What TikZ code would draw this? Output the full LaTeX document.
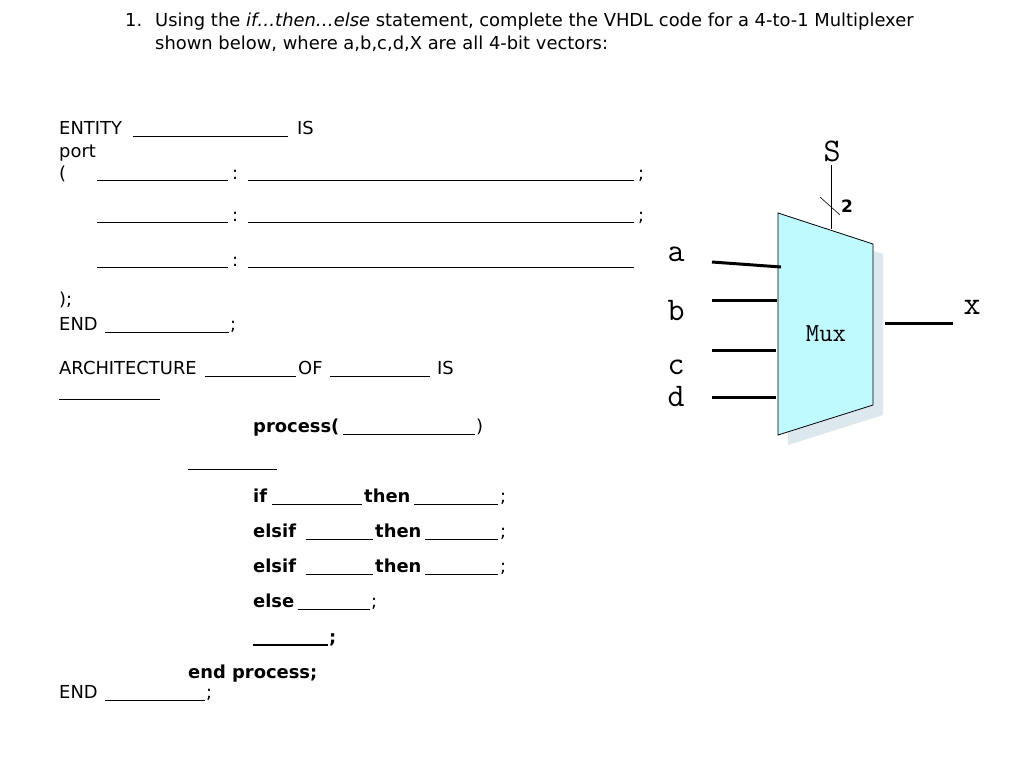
\documentclass[tikz,border=0pt]{standalone}
\usepackage{fontspec}
\setmainfont{DejaVu Sans}
\definecolor{muxfill}{RGB}{190,250,255}
\definecolor{muxshadow}{RGB}{220,232,238}
\begin{document}
\begin{tikzpicture}[x=1pt,y=-1pt,
  t/.style={anchor=base west,inner sep=0pt,font=\fontsize{17.9}{21}\selectfont},
  b/.style={t,font=\fontsize{17.9}{21}\selectfont\bfseries},
  m/.style={anchor=center,inner sep=0pt,font=\fontsize{33}{36}\ttfamily},
  blank/.style={line width=0.7pt},
  wire/.style={line width=3pt}]
\useasboundingbox (0,0) rectangle (1024,769);
% header
\node[t] (n1) at (125,26) {1.};
\node[t] (h1) at (155,26) {Using the \textit{if…then…else} statement, complete the VHDL code for a 4-to-1 Multiplexer};
\node[t] (h2) at (155,49) {shown below, where a,b,c,d,X are all 4-bit vectors:};
% entity
\node[t] (e1) at (59,134) {ENTITY};
\draw[blank] (133,136) -- (288,136);
\node[t] (e2) at (297,134) {IS};
\node[t] (p1) at (59,157) {port};
\node[t] (p2) at (59,179) {(};
\foreach \y/\s in {180/1,222/1,267/0}{
  \draw[blank] (97,\y) -- (228,\y);
  \node[t] at (232,\y-1) {:};
  \draw[blank] (248,\y) -- (634,\y);
  \ifnum\s=1 \node[t] at (638,\y-1) {;};\fi
}
\node[t] (p3) at (59,305) {);};
\node[t] (en) at (59,330) {END};
\draw[blank] (105,332) -- (229,332);
\node[t] (en2) at (230,330) {;};
\node[t] (ar) at (59,374) {ARCHITECTURE};
\draw[blank] (205,376) -- (296,376);
\node[t] (of) at (298,374) {OF};
\draw[blank] (330,376) -- (430,376);
\node[t] (is2) at (437,374) {IS};
\draw[blank] (59,399) -- (160,399);
% process
\node[b] (pr) at (253,432) {process(};
\draw[blank] (343,434) -- (475,434);
\node[t] (pr2) at (476,432) {)};
\draw[blank] (188,469) -- (277,469);
\node[b] (if) at (253,502) {if};
\draw[blank] (272,504) -- (362,504);
\node[b] (th1) at (364,502) {then};
\draw[blank] (414,504) -- (498,504);
\node[t] at (500,502) {;};
\node[b] (ei1) at (253,537) {elsif};
\draw[blank] (306,539) -- (373,539);
\node[b] (th2) at (375,537) {then};
\draw[blank] (425,539) -- (498,539);
\node[t] at (500,537) {;};
\node[b] (ei2) at (253,572) {elsif};
\draw[blank] (306,574) -- (373,574);
\node[b] (th3) at (375,572) {then};
\draw[blank] (425,574) -- (498,574);
\node[t] at (500,572) {;};
\node[b] (el) at (253,607) {else};
\draw[blank] (298,609) -- (370,609);
\node[t] at (371,607) {;};
\draw[line width=1.2pt] (253,645) -- (328,645);
\node[b] at (329,643) {;};
\node[b] (ep) at (188,678) {end process;};
\node[t] (en3) at (59,698) {END};
\draw[blank] (105,700) -- (205,700);
\node[t] at (206,698) {;};
% mux
\fill[muxshadow] (788,223) -- (883,254) -- (883,415) -- (788,445) -- cycle;
\draw[fill=muxfill, line width=0.8pt] (778,213) coordinate (tl) -- (873,244) coordinate (tr) -- (873,405) coordinate (br) -- (778,435) coordinate (lb) -- cycle;
\node[m,font=\fontsize{26}{30}\ttfamily] (mux) at (826,334) {Mux};
\node[m] (s) at (832,151) {S};
\coordinate (st) at (831,165);
\coordinate (sb) at (831,229);
\draw[line width=0.8pt] (st) -- (sb);
\draw[line width=0.6pt] (820,197) -- (840,215);
\node[anchor=center,inner sep=0pt,font=\fontsize{17}{20}\selectfont\bfseries] (two) at (847,206) {2};
\node[m] (la) at (676,254) {a};
\node[m] (lb) at (676,311) {b};
\node[m] (lc) at (676,367) {c};
\node[m] (ld) at (676,397) {d};
\node[m] (lx) at (972,307) {x};
\coordinate (a0) at (712,262); \coordinate (a1) at (781,267);
\coordinate (b0) at (712,300); \coordinate (b1) at (777,300);
\coordinate (c0) at (712,350); \coordinate (c1) at (776,350);
\coordinate (d0) at (712,397); \coordinate (d1) at (776,397);
\coordinate (x0) at (885,323); \coordinate (x1) at (953,323);
\draw[wire] (a0) -- (a1); \draw[wire] (b0) -- (b1); \draw[wire] (c0) -- (c1); \draw[wire] (d0) -- (d1);
\draw[wire] (x0) -- (x1);
\end{tikzpicture}
\end{document}
